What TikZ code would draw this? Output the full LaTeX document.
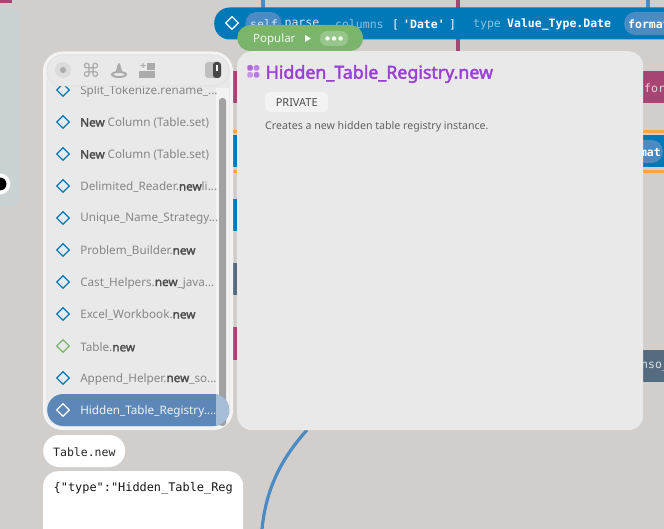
\documentclass[tikz,border=0pt]{standalone}
\usepackage{fontspec}
\setmainfont{Noto Sans}[AutoFakeBold=2.2]
\setmonofont{DejaVu Sans Mono}
\newfontfamily\symfont{DejaVu Sans}
\usetikzlibrary{shapes,positioning}
\definecolor{canvas}{HTML}{D2CECB}
\definecolor{sidepanel}{HTML}{C9D1D2}
\definecolor{panelgray}{HTML}{E9E9E9}
\definecolor{panelrim}{HTML}{F3F3F3}
\definecolor{nodeblue}{HTML}{0079B8}
\definecolor{pillblue}{HTML}{4A8BC4}
\definecolor{nodepink}{HTML}{A84474}
\definecolor{nodeslate}{HTML}{546B80}
\definecolor{linkorange}{HTML}{F9A63A}
\definecolor{popgreen}{HTML}{7BB56B}
\definecolor{rowblue}{HTML}{5C87B6}
\definecolor{titlepurple}{HTML}{9A3FD6}
\definecolor{iconmid}{HTML}{ABABAB}
\tikzset{
	rowdiamond/.style={diamond,draw=#1,line width=1.1pt,minimum size=13pt,inner sep=0pt},
	rowlabel/.style={inner sep=0pt,font=\fontsize{11.7}{12}\selectfont,text=gray!95,yshift=-1pt},
	code/.style={inner sep=0pt,font=\ttfamily\fontsize{11.5}{12}\selectfont},
	strong/.style={inner sep=0pt,font=\ttfamily\bfseries\fontsize{11.5}{12}\selectfont,text=white},
	block/.style={inner sep=0pt,minimum height=32pt,fill=#1}
}
\newcommand{\nw}[1]{{\bfseries\color{black!70}#1}}
\newcommand{\more}{.{}.{}.}
\begin{document}
\begin{tikzpicture}[x=1pt,y=-1pt]
	\useasboundingbox (0,0) rectangle (664,529);
	\clip (0,0) rectangle (664,529);
	\fill[canvas] (0,0) rectangle (664,529);

	% Links behind the blocks
	\fill[nodepink] (0,0) rectangle (12,3);
	\fill[pillblue] (261,0) rectangle (265,10);
	\fill[nodepink] (456,0) rectangle (460,52);
	\fill[pillblue] (646,0) rectangle (650,10);
	\fill[linkorange] (225,130) rectangle (664,133);
	\fill[linkorange] (225,170) rectangle (664,173);
	\coordinate (curvetop) at (307,430);
	\coordinate (curvebot) at (262,529);
	\draw[pillblue,line width=3.2pt] (curvetop) .. controls (280,460) and (266,490) .. (curvebot);

	% Top block
	\node[block=nodeblue,rounded corners=15.5pt,minimum width=520pt,anchor=west] (topblock) at (214,23.5) {};
	\node[rowdiamond=white,minimum size=13pt] (topdiamond) at (232,23) {};
	\node[fill=pillblue,rounded corners=11pt,minimum width=36pt,minimum height=23pt,inner sep=0pt] (selfpill) at (263.5,23.5) {};
	\node[code,text=white!85!nodeblue,anchor=west] (selftext) at (250,24.5) {self};
	\node[code,text=white!85!nodeblue,right=6.3pt of selftext] (parsetext) {parse};
	\node[code,text=white!55!nodeblue,anchor=west] (columnstext) at (335,24.5) {columns};
	\node[strong,anchor=west] (dateopen) at (392,24.5) {\mdseries[};
	\node[strong,anchor=west] (datename) at (403,24.5) {'Date'};
	\node[strong,anchor=west] (dateclose) at (449,24.5) {\mdseries]};
	\node[code,text=white!55!nodeblue,anchor=west] (typetext) at (473,24.5) {type};
	\node[strong,anchor=west] (valuetext) at (507,24.5) {Value\_Type.Date};
	\node[fill=pillblue,rounded corners=11pt,minimum width=70pt,minimum height=23pt,inner sep=0pt,anchor=west] (formatpill) at (624,23.5) {};
	\node[strong,anchor=west] (formattext) at (628,24.5) {format};

	% Blocks that stick out behind the panels
	\node[block=nodepink,minimum width=440pt,anchor=west] (pinkone) at (228,87) {};
	\node[code,text=white!75!nodepink,anchor=west] (pinkonetext) at (644,88) {form};
	\node[block=nodeblue,minimum width=440pt,anchor=west] (blueone) at (228,151.5) {};
	\node[fill=pillblue,rounded corners=11pt,minimum width=60pt,minimum height=23pt,inner sep=0pt,anchor=east] (matpill) at (663,151.5) {};
	\node[strong,anchor=east] (mattext) at (661,152) {format};
	\node[block=nodeblue,minimum width=20pt,anchor=west] (bluetwo) at (228,215.5) {};
	\node[block=nodeslate,minimum width=30pt,anchor=west] (slateone) at (638,366) {};
	\node[code,text=white!80!nodeslate,anchor=west] (slatetext) at (641,367) {nso\_};
	\node[block=nodeslate,minimum width=20pt,anchor=west] (slatetwo) at (228,279.5) {};
	\node[block=nodepink,minimum width=20pt,anchor=west] (pinktwo) at (228,343.5) {};

	% Side panel on the left
	\fill[sidepanel,rounded corners=10pt] (-30,6) rectangle (20.5,206.5);
	\node[circle,fill=white,minimum size=21pt,inner sep=0pt] (ringouter) at (0,184) {};
	\node[circle,fill=black,minimum size=13pt,inner sep=0pt] (ringinner) at (0,184) {};

	% List panel
	\draw[draw=panelrim,line width=3pt,fill=panelgray,rounded corners=18pt] (44.5,53) rectangle (231.5,428.5);
	\fill[panelrim] (216,88) rectangle (229,420);
	\fill[iconmid!95!black,rounded corners=3pt] (219,98) rectangle (226,426);
	\begin{scope}
		\clip (47,86) rectangle (218,426);
		\foreach \i/\y/\txt/\col in {
			0/90/Split\_Tokenize.rename\_\more/nodeblue,
			1/122/\nw{New} Column (Table.set)/nodeblue,
			2/154/\nw{New} Column (Table.set)/nodeblue,
			3/186/Delimited\_Reader.\nw{new}li\more/nodeblue,
			4/218/Unique\_Name\_Strategy\more/nodeblue,
			5/250/Problem\_Builder.\nw{new}/nodeblue,
			6/282/Cast\_Helpers.\nw{new}\_java\more/nodeblue,
			7/314/Excel\_Workbook.\nw{new}/nodeblue,
			8/346/Table.\nw{new}/popgreen,
			9/378/Append\_Helper.\nw{new}\_so\more/nodeblue}{
			\node[rowdiamond=\col] (item\i) at (63,\y) {};
			\node[rowlabel,right=10pt of item\i] (label\i) {\txt};
		}
	\end{scope}

	% Selected row
	\node[fill=rowblue,rounded corners=16pt,minimum width=182pt,minimum height=32pt,inner sep=0pt,anchor=west] (selrow) at (47,410) {};
	\begin{scope}
		\clip (216,394) rectangle (230,426);
		\node[fill=white!45!rowblue,rounded corners=16pt,minimum width=182pt,minimum height=32pt,inner sep=0pt,anchor=west] (selrowfade) at (47,410) {};
	\end{scope}
	\node[rowdiamond=white] (itemsel) at (63,410) {};
	\begin{scope}
		\clip (47,394) rectangle (218,426);
		\node[rowlabel,text=white!90!rowblue,right=10pt of itemsel] (labelsel) {Hidden\_Table\_Registry\more.};
	\end{scope}

	% Header of the list
	\draw[draw=black!12,fill=panelgray,line width=0.6pt,rounded corners=15.5pt] (47,55) rectangle (229,86);
	\node[circle,fill=black!14,minimum size=16pt,inner sep=0pt] (recordout) at (63,70) {};
	\node[circle,fill=iconmid,minimum size=6pt,inner sep=0pt] (recordin) at (63,70) {};
	\node[inner sep=0pt,text=iconmid,font=\symfont\fontsize{19}{19}\selectfont] (cmdicon) at (91,70) {⌘};
	\node[ellipse,draw=iconmid,line width=2pt,minimum width=14pt,minimum height=5pt,inner sep=0pt] (coneicon) at (119,74.5) {};
	\fill[iconmid] (115.5,73) -- (118,63.5) -- (120,63.5) -- (122.5,73) -- cycle;
	\foreach \n/\x/\y in {a/140/66,b/140/74,c/148/66,d/148/74}{
		\node[fill=iconmid,minimum size=7.5pt,inner sep=0pt] (grid\n) at (\x+3,\y+.5) {};
	}
	\node[fill=panelgray,minimum size=8pt,inner sep=0pt] (gridgap) at (143,66.5) {};
	\node[inner sep=0pt,text=iconmid,font=\fontsize{10}{10}\selectfont\bfseries] (gridplus) at (143,66) {+};
	\node[fill=black!25,rounded corners=3pt,minimum width=16pt,minimum height=16pt,inner sep=0pt] (toggleback) at (213,70) {};
	\node[fill=black!72,rounded corners=3pt,minimum width=8pt,minimum height=16pt,inner sep=0pt] (togglefront) at (217,70) {};
	\node[fill=white,minimum width=2pt,minimum height=6pt,inner sep=0pt] (togglemark) at (217,68) {};

	% Popular pill
	\node[fill=popgreen,rounded corners=13pt,minimum width=126pt,minimum height=26pt,inner sep=0pt,anchor=west] (poppill) at (237,38) {};
	\node[inner sep=0pt,text=white!90!popgreen,font=\fontsize{11.5}{12}\selectfont,anchor=west] (poptext) at (253,39.5) {Popular};
	\node[regular polygon,regular polygon sides=3,shape border rotate=-90,fill=white!90!popgreen,minimum size=8pt,inner sep=0pt] (popplay) at (307,38.5) {};
	\node[fill=white!22!popgreen,rounded corners=7pt,minimum width=28pt,minimum height=15pt,inner sep=0pt] (popmore) at (334,38.5) {};
	\foreach \i/\x in {1/327.5,2/334,3/340.5}{
		\node[circle,fill=white!90!popgreen,minimum size=4.5pt,inner sep=0pt] (popdot\i) at (\x,38.5) {};
	}

	% Documentation panel
	\node[fill=panelgray,rounded corners=15pt,minimum width=406pt,minimum height=379pt,inner sep=0pt,anchor=north west] (docpanel) at (237,51) {};
	\foreach \i/\x/\y/\shade in {1/250/68/80,2/256.5/68/65,3/250/75/55,4/256.5/75/70}{
		\node[fill=titlepurple!\shade,rounded corners=1.5pt,minimum size=5.5pt,inner sep=0pt] (titledot\i) at (\x,\y) {};
	}
	\node[inner sep=0pt,anchor=west,text=titlepurple,font=\bfseries\fontsize{17.8}{18}\selectfont] (doctitle) at (265.5,74) {Hidden\_Table\_Registry.new};
	\node[fill=panelrim,rounded corners=5pt,minimum width=63pt,minimum height=20pt,inner sep=0pt,anchor=west] (privpill) at (265,102) {};
	\node[inner sep=0pt,text=black!70,font=\fontsize{11}{12}\selectfont,yshift=-1pt] (privtext) at (privpill) {PRIVATE};
	\node[inner sep=0pt,anchor=west,text=black!62,font=\fontsize{10.6}{12}\selectfont] (doctext) at (265,126.5) {Creates a new hidden table registry instance.};

	% Output boxes
	\node[fill=white,rounded corners=16pt,minimum width=82pt,minimum height=32pt,inner sep=0pt,anchor=west] (namepill) at (43,451) {};
	\node[code,text=black!85,anchor=west] (nametext) at (53,452) {Table.new};
	\node[fill=white,rounded corners=15pt,minimum width=200pt,minimum height=80pt,inner sep=0pt,anchor=north west] (jsonbox) at (43,471) {};
	\node[inner sep=0pt,anchor=west,text=black!90,font=\ttfamily\fontsize{11.9}{13}\selectfont] (jsontext) at (53.5,488) {\{"type":"Hidden\_Table\_Reg};
\end{tikzpicture}
\end{document}
